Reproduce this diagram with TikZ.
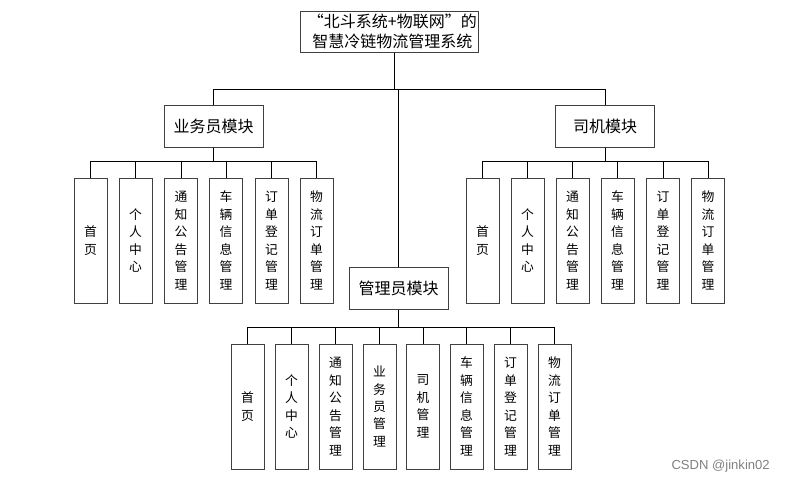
\documentclass[tikz,border=0pt]{standalone}
\usepackage{fontspec}
\newfontfamily\cjk{Noto Sans CJK SC}
\newfontfamily\wm{Liberation Sans}
\begin{document}
\begin{tikzpicture}[x=0.75pt,y=-0.75pt,
  box/.style={draw=black!75, line width=0.75pt, fill=white, inner sep=0pt, align=center},
  topbox/.style={box, minimum width=178*0.75pt, minimum height=41*0.75pt, font=\cjk\fontsize{12}{15}\selectfont},
  modbox/.style={box, minimum width=99*0.75pt, minimum height=42*0.75pt, font=\cjk\fontsize{12}{14}\selectfont},
  leaf/.style={box, minimum width=33*0.75pt, minimum height=125*0.75pt, font=\cjk\fontsize{9.6}{13.1}\selectfont},
  conn/.style={draw=black, line width=0.75pt}]
\useasboundingbox (0,0) rectangle (785,483);
\node[topbox] (top) at (389,31.5) {\hspace*{5pt}“北斗系统+物联网”的\\\hspace*{5pt}智慧冷链物流管理系统};
\node[modbox] (bm) at (213.5,126) {业务员模块};
\node[modbox] (dm) at (605,126) {司机模块};
\node[modbox] (am) at (398.5,288.5) {管理员模块};
\coordinate (tb) at (394,89);
\draw[conn] (top.south -| tb) -- (tb);
\draw[conn] (tb) -| (bm.north);
\draw[conn] (tb) -| (dm.north);
\draw[conn] (tb) -| (am.north);
% business leaves
\foreach \i/\x/\t in {1/90.5/首\\页, 2/135.5/个\\人\\中\\心, 3/181/通\\知\\公\\告\\管\\理, 4/226/车\\辆\\信\\息\\管\\理, 5/271.5/订\\单\\登\\记\\管\\理, 6/316.5/物\\流\\订\\单\\管\\理}{
  \node[leaf] (b\i) at (\x,240.5) {\t};
  \draw[conn] (bm.south) -- ++(0,14) -| (b\i.north);
}
% driver leaves
\foreach \i/\x/\t in {1/482.5/首\\页, 2/527.5/个\\人\\中\\心, 3/572.5/通\\知\\公\\告\\管\\理, 4/617.5/车\\辆\\信\\息\\管\\理, 5/663/订\\单\\登\\记\\管\\理, 6/708/物\\流\\订\\单\\管\\理}{
  \node[leaf] (d\i) at (\x,240.5) {\t};
  \draw[conn] (dm.south) -- ++(0,14) -| (d\i.north);
}
% admin leaves
\foreach \i/\x/\t in {1/247.5/首\\页, 2/291.5/个\\人\\中\\心, 3/335.5/通\\知\\公\\告\\管\\理, 4/379.5/业\\务\\员\\管\\理, 5/423/司\\机\\管\\理, 6/466.5/车\\辆\\信\\息\\管\\理, 7/510.5/订\\单\\登\\记\\管\\理, 8/554.5/物\\流\\订\\单\\管\\理}{
  \node[leaf] (a\i) at (\x,406.5) {\t};
  \draw[conn] (am.south) -- ++(0,17) -| (a\i.north);
}
\node[font=\wm\fontsize{9.8}{11}\selectfont, text=black!50, anchor=east, inner sep=0pt] (wmk) at (770,466) {CSDN @jinkin02};
\end{tikzpicture}
\end{document}
